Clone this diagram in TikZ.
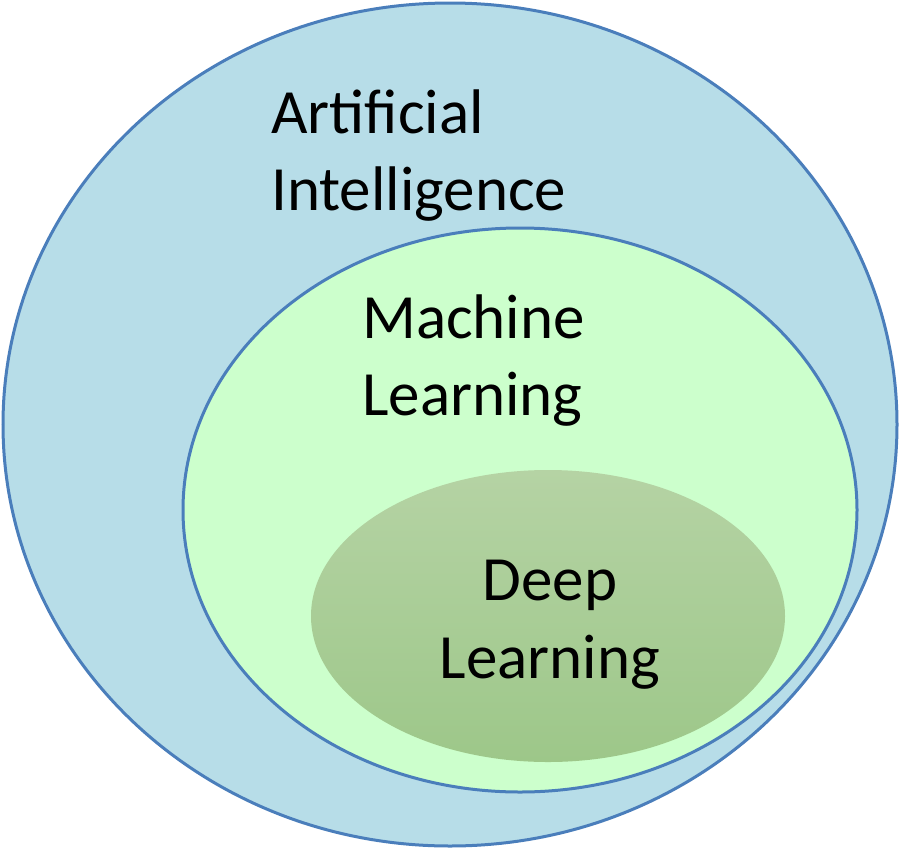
\documentclass[tikz,border=0pt]{standalone}
\usepackage{fontspec}
\setmainfont{Carlito}
\usetikzlibrary{shapes}

\definecolor{aiFill}{RGB}{183,221,232}
\definecolor{aiLine}{RGB}{74,126,187}
\definecolor{mlFill}{RGB}{204,255,204}
\definecolor{dlTop}{RGB}{181,211,164}
\definecolor{dlBottom}{RGB}{157,199,137}

\tikzset{
  set/.style={draw=aiLine, line width=3pt},
  word/.style={font=\fontsize{63}{75}\selectfont, inner sep=0pt}
}

\begin{document}
\begin{tikzpicture}[x=1pt, y=-1pt]
		\useasboundingbox (0, 0) rectangle (902, 849);
		\draw[set, fill=aiFill] (450, 424.5) circle[x radius=447pt, y radius=421.5pt];
		\draw[set, fill=mlFill] (520, 510) circle[x radius=337pt, y radius=282pt];
		\shade[top color=dlTop, bottom color=dlBottom] (548, 616) circle[x radius=237pt, y radius=146pt];
		
		\node[word, anchor=base west] (ai1) at (271, 133) {Artificial};
		\node[word, anchor=base west] (ai2) at (271, 210) {Intelligence};
		\node[word, anchor=base west] (ml1) at (362, 338) {Machine};
		\node[word, anchor=base west] (ml2) at (362, 415) {Learning};
		\node[word, anchor=base] (dl1) at (550, 600) {Deep};
		\node[word, anchor=base] (dl2) at (550, 678) {Learning};
	\end{tikzpicture}
\end{document}
